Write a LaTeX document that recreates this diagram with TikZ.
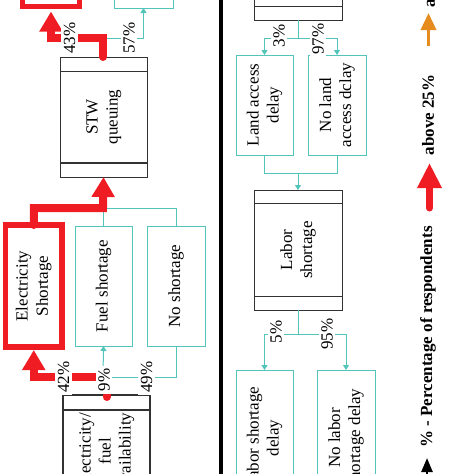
\documentclass[tikz,border=0pt]{standalone}
\usepackage{fontspec}
\setmainfont{Liberation Serif}
\usetikzlibrary{arrows.meta,calc}
\definecolor{tealc}{RGB}{82,196,186}
\definecolor{redc}{RGB}{240,28,36}
\definecolor{orangec}{RGB}{230,140,30}
\definecolor{boxgray}{RGB}{50,50,50}
\newcommand\rottxt[1]{\rotatebox{90}{\begin{tabular}{@{}c@{}}#1\end{tabular}}}
\begin{document}
\begin{tikzpicture}[x=1pt,y=-1pt,
  every node/.style={font=\fontsize{17}{20}\selectfont},
  tbox/.style={draw=tealc, line width=1pt, rectangle, inner sep=0pt, outer sep=0pt},
  bbox/.style={draw=boxgray, line width=1pt, rectangle, inner sep=0pt, outer sep=0pt},
  rbox/.style={draw=redc, line width=5.5pt, rectangle, inner sep=0pt, outer sep=0pt},
  bline/.style={draw=boxgray, line width=1pt},
  tline/.style={draw=tealc, line width=1pt},
  tarrow/.style={tline, -{Triangle[length=5pt,width=6pt]}},
  rline/.style={draw=redc, line width=8pt, line cap=round},
  rarrow/.style={rline, -{Triangle[length=20pt,width=22pt]}},
  pct/.style={fill=white, inner sep=2.5pt, rotate=90},
  legtxt/.style={font=\fontsize{17}{20}\selectfont\bfseries, rotate=90},
]
\useasboundingbox (0,0) rectangle (474,474);
\clip (0,0) rectangle (474,474);

% ---------- left panel boxes ----------
\node[rbox, minimum width=57pt, minimum height=67pt] (topred) at (51,-27) {};
\node[tbox, minimum width=59pt, minimum height=68pt] (topteal) at (143.5,-26) {};
\node[bbox, minimum width=87pt, minimum height=120pt] (stw) at (103.5,117) {\rottxt{STW\\queuing}};
\node[rbox, minimum width=56.5pt, minimum height=122pt] (elec) at (33.75,286) {\rottxt{Electricity\\Shortage}};
\node[tbox, minimum width=57pt, minimum height=120pt] (fuel) at (103.5,286) {\rottxt{Fuel shortage}};
\node[tbox, minimum width=58pt, minimum height=120pt] (noshort) at (176,286) {\rottxt{No shortage}};
\node[bbox, line width=1.2pt, minimum width=87pt, minimum height=112pt] (avail) at (106.5,451) {\rottxt{Electricity/\\fuel\\availability}};

\draw[bline] ($(stw.north west)+(0,14)$) -- ($(stw.north east)+(0,14)$);
\draw[bline, line width=1.5pt] ($(stw.south west)+(0,-14)$) -- ($(stw.south east)+(0,-14)$);
\draw[bline, line width=1.2pt] ($(avail.north west)+(0,15)$) -- ($(avail.north east)+(0,15)$);

% ---------- right panel boxes ----------
\node[bbox, minimum width=88pt, minimum height=120pt] (topbox) at (298,-40) {};
\node[tbox, minimum width=57pt, minimum height=100pt] (land) at (264.5,105) {\rottxt{Land access\\delay}};
\node[tbox, minimum width=58pt, minimum height=100pt] (noland) at (337,105) {\rottxt{No land\\access dclay}};
\node[bbox, minimum width=88pt, minimum height=120pt] (labor) at (298,250) {\rottxt{Labor\\shortage}};
\node[tbox, minimum width=57pt, minimum height=136pt] (laborD) at (264.5,438) {\rottxt{Labor shortage\\delay}};
\node[tbox, minimum width=58pt, minimum height=136pt] (nolabor) at (346,438) {\rottxt{No labor\\shortage delay}};

\draw[bline] ($(topbox.south west)+(0,-14)$) -- ($(topbox.south east)+(0,-14)$);
\draw[bline] ($(labor.north west)+(0,13)$) -- ($(labor.north east)+(0,13)$);
\draw[bline] ($(labor.south west)+(0,-14)$) -- ($(labor.south east)+(0,-14)$);

% ---------- junctions ----------
\coordinate (j1) at (103,38);
\coordinate (j2) at (103,208);
\coordinate (j3) at (106.5,377);
\coordinate (j4) at (103,377);
\coordinate (k1) at (298,38);
\coordinate (k2) at (298,173);
\coordinate (k3) at (298,334);

% ---------- teal connectors ----------
\draw[tarrow] (j1) -| (topteal.south);
\draw[tline] (fuel.north) |- (j2);
\draw[tline] (noshort.north) |- (j2);
\draw[tarrow] (j4) -- (fuel.south);
\draw[tline] (j4) -| (noshort.south);

\draw[tline] (topbox.south) -- (k1);
\draw[tarrow] (k1) -| (land.north);
\draw[tarrow] (k1) -| (noland.north);
\draw[tline] (land.south) |- (k2);
\draw[tline] (noland.south) |- (k2);
\draw[tarrow] (k2) -- (labor.north);
\draw[tline] (labor.south) -- (k3);
\draw[tarrow] (k3) -| (laborD.north);
\draw[tarrow] (k3) -| (nolabor.north);

% ---------- red connectors ----------
\draw[rarrow] (stw.north -| j1) -- (j1) -- (j1 -| topred.south) -- ($(topred.south)+(0,5)$);
\draw[rarrow] (elec.north) -- (elec.north |- j2) -- (j2) -- (stw.south);
\draw[rarrow] ($(avail.north)+(0,2)$) -- (j3) -- (j3 -| elec.south) -- ($(elec.south)+(0,3)$);

% ---------- percentages ----------
\node[pct] (p43) at (69.5,38) {43\%};
\node[pct] (p57) at (129,38) {57\%};
\node[pct] (p42) at (63.5,377) {42\%};
\node[pct] (p9) at (104,380) {9\%};
\node[pct] (p49) at (146.5,377) {49\%};
\node[pct] (p3) at (279,36) {3\%};
\node[pct] (p97) at (318,39) {97\%};
\node[pct] (p5) at (276,332) {5\%};
\node[pct] (p95) at (327,334) {95\%};

% ---------- divider ----------
\coordinate (d1) at (221,-5);
\coordinate (d2) at (221,480);
\draw[line width=3.5pt] (d1) -- (d2);

% ---------- legend ----------
\coordinate (oa1) at (428.5,46);
\coordinate (oa2) at (428.5,13);
\draw[draw=orangec, line width=3.5pt, -{Triangle[length=17pt,width=15pt]}] (oa1) -- (oa2);
\node[legtxt, anchor=west, inner sep=0pt] (lorange) at (429,8) {above 10\%};

\node[legtxt] (lred) at (428,115) {above 25\%};
\coordinate (ra1) at (429.5,208);
\coordinate (ra2) at (429.5,163);
\draw[draw=redc, line width=7pt, line cap=round, -{Triangle[length=25pt,width=23pt]}] (ra1) -- (ra2);

\node[legtxt] (lpct) at (428,337) {\% - Percentage of respondents};
\coordinate (ba1) at (427,480);
\coordinate (ba2) at (427,458);
\draw[line width=2.5pt, -{Triangle[length=14pt,width=11pt]}] (ba1) -- (ba2);
\end{tikzpicture}
\end{document}
